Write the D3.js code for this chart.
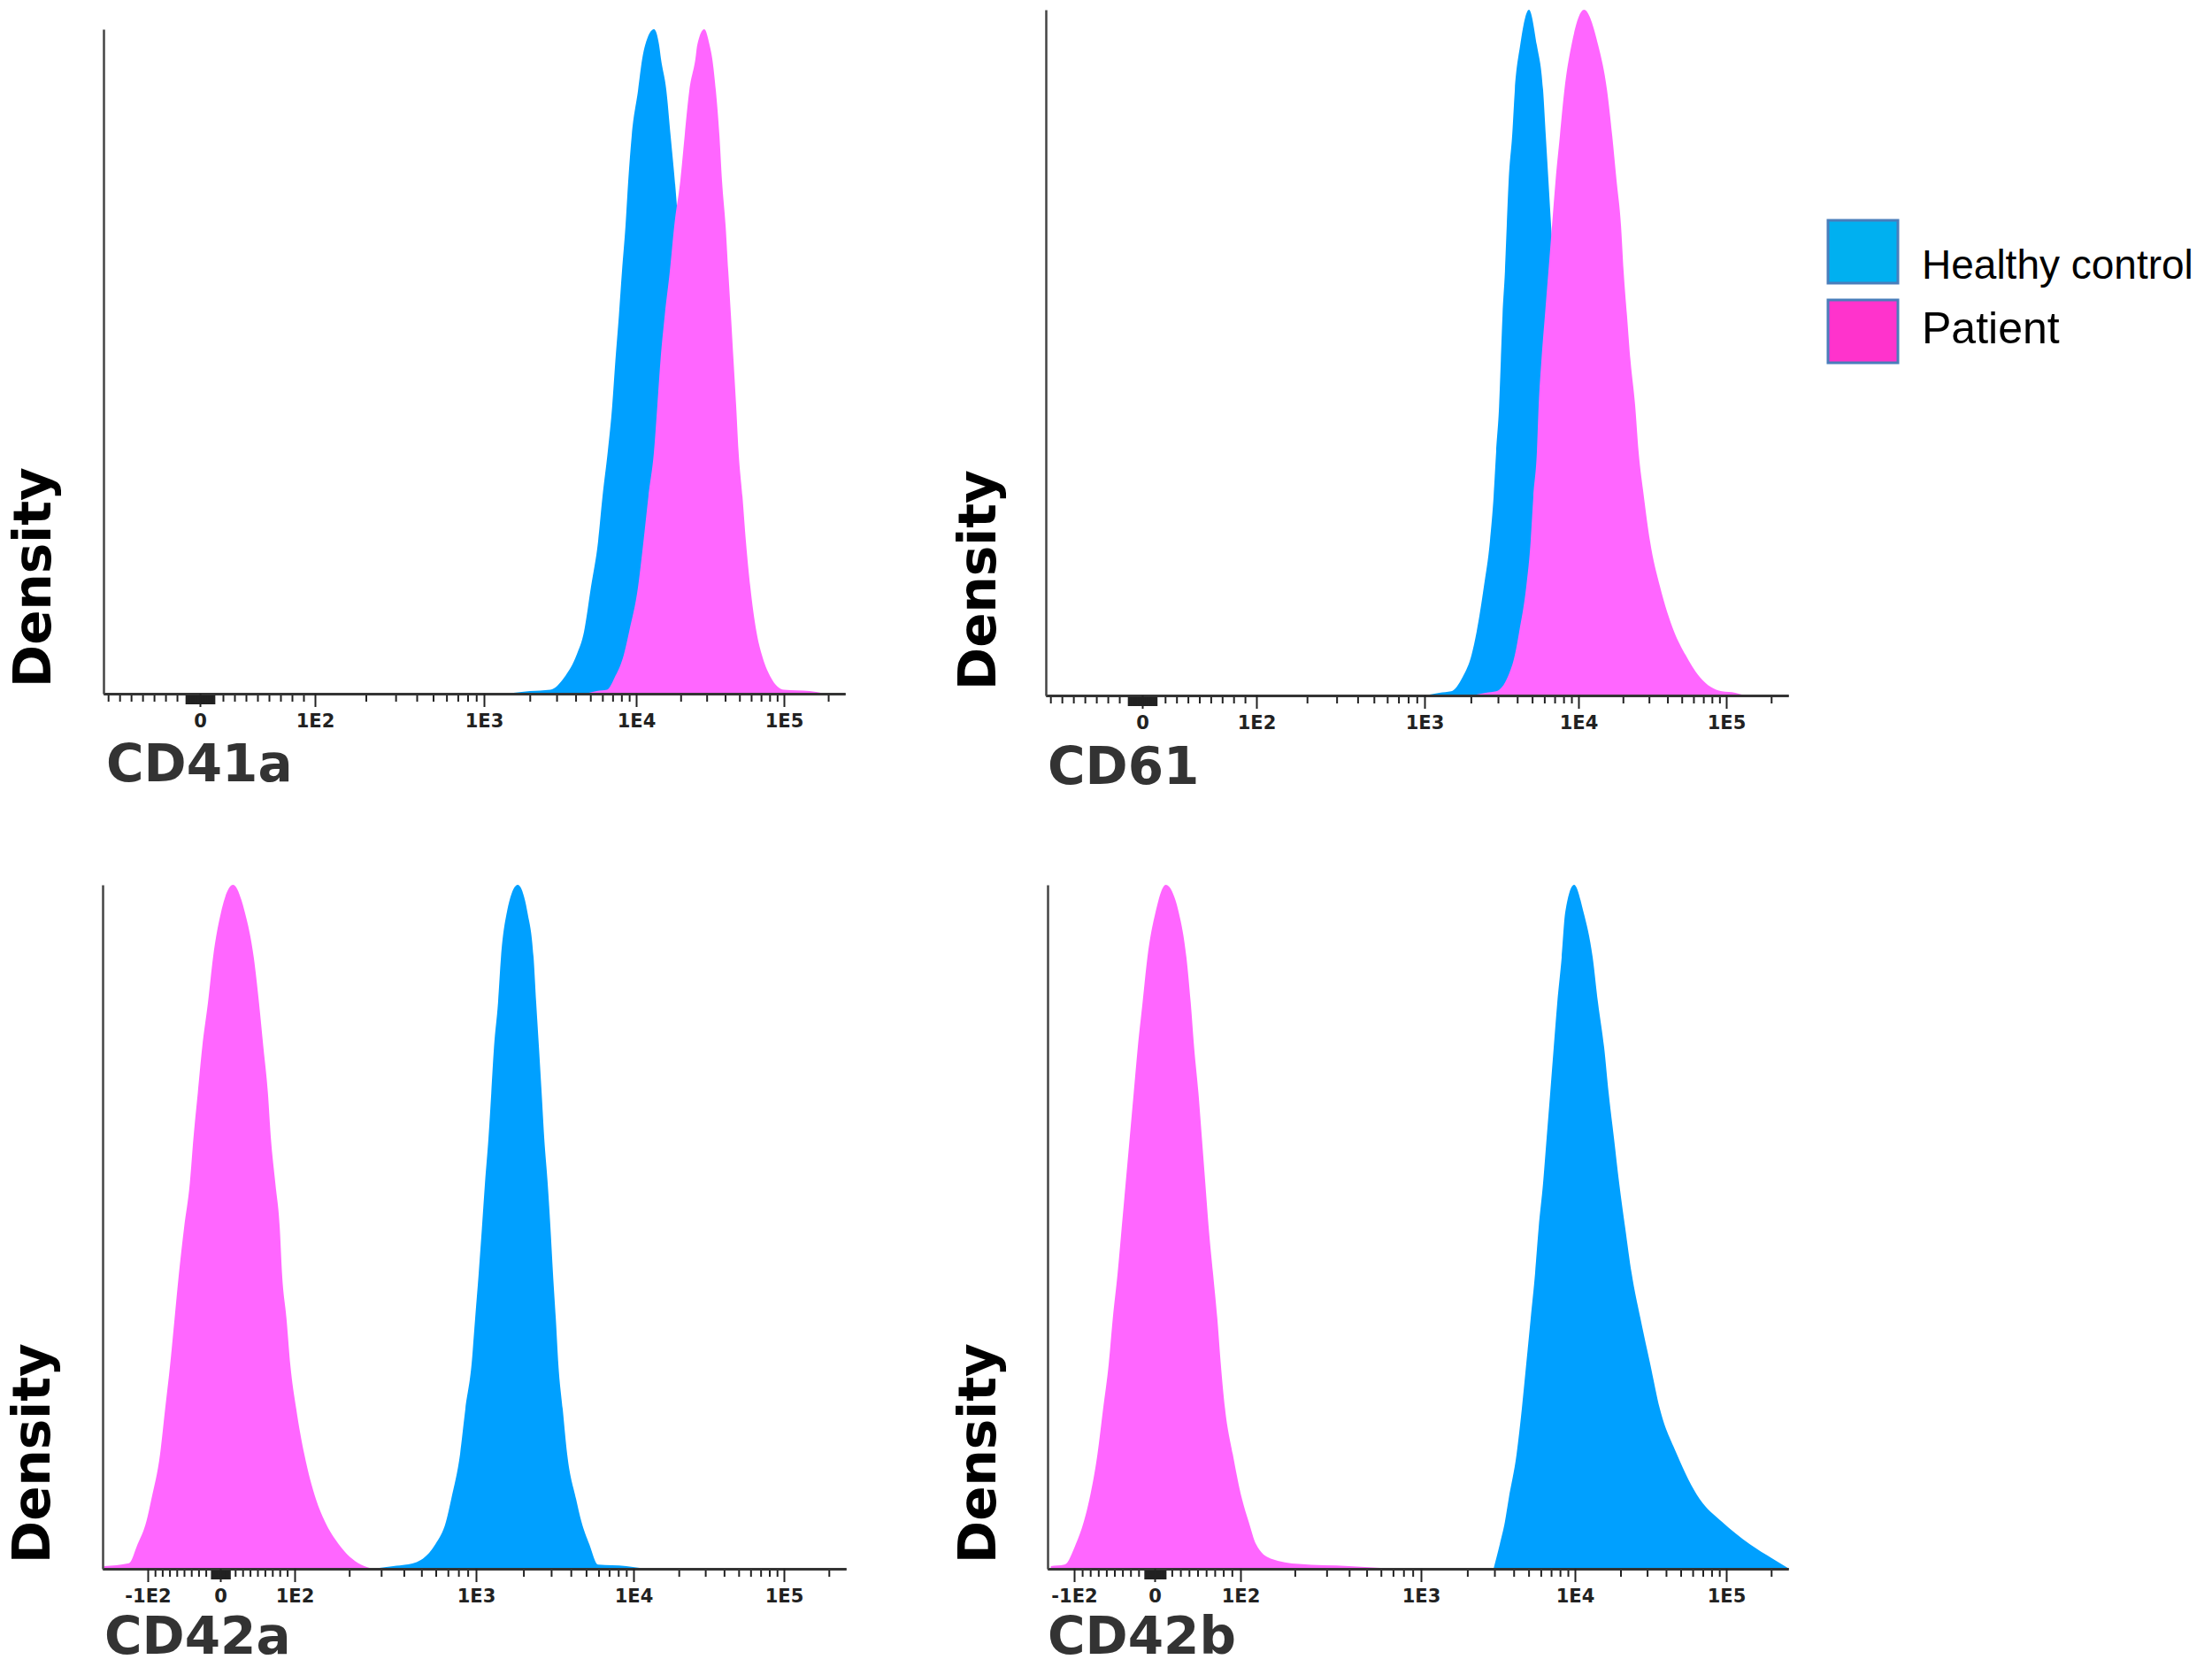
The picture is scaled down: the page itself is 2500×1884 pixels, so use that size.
<!DOCTYPE html>
<html>
<head>
<meta charset="utf-8">
<script src="https://cdn.jsdelivr.net/npm/d3@7"></script>
<style>
  body { margin: 0; background: #fff; }
  svg { display: block; }
</style>
</head>
<body>
<div id="chart"></div>
<script>
// Marker names and series (legend)
var markers = ["CD41a", "CD61", "CD42a", "CD42b"];
var seriesNames = ["Healthy control", "Patient"];

// Tick values / labels of the biexponential fluorescence axis
var tickValuesTop = [0, 100, 1000, 10000, 100000];
var tickLabelsTop = ["0", "1E2", "1E3", "1E4", "1E5"];
var tickValuesBottom = [-100, 0, 100, 1000, 10000, 100000];
var tickLabelsBottom = ["-1E2", "0", "1E2", "1E3", "1E4", "1E5"];

// Histograms: [fluorescence, % of mode]
var cd41aHealthy = [[1380,0],[2000,0.4],[2730,0.6],[3380,2.5],[4070,5.9],[4540,9.3],[5050,16.1],[5620,22.9],[6010,29.7],[6510,36.5],[6960,43.3],[7300,50.1],[7700,56.9],[8070,63.6],[8510,70.4],[8870,77.2],[9350,84],[10300,90.8],[11000,95.6],[11500,97.6],[13200,100],[14300,97.6],[14700,95.6],[16000,90.8],[17100,84],[18800,73.8],[20200,63],[21900,50],[24200,36],[26600,23],[29700,12],[34100,5],[40300,1.5],[49500,0]];
var cd41aPatient = [[4600,0],[5500,0.4],[6430,0.6],[7240,2.5],[8300,5.9],[8980,9.3],[10300,16.1],[11200,22.9],[12100,29.7],[13200,36.5],[13900,43.3],[14600,50.1],[15600,56.9],[16900,63.6],[18100,70.4],[19900,77.2],[21300,84],[22900,90.8],[25200,95.6],[25900,97.6],[28900,100],[31400,97.6],[32700,95.6],[34600,90.8],[36600,84],[38100,77.2],[40300,70.4],[42000,63.6],[43800,56.9],[45600,50.1],[47500,43.3],[49300,36.5],[52400,29.7],[55300,22.9],[59200,16.1],[65200,9.3],[70800,5.9],[81300,2.5],[100000,0.6],[150000,0.4],[191000,0]];

var cd61Healthy = [[1000,0],[1250,0.4],[1490,0.6],[1770,2.7],[2020,5.9],[2180,9.3],[2430,15.9],[2660,22.5],[2810,29],[2920,35.6],[3050,42.2],[3130,48.8],[3210,55.4],[3330,61.9],[3420,68.5],[3520,75.1],[3710,81.7],[3860,88.3],[4180,94.8],[4770,100],[5370,94.8],[5890,88.3],[6130,81.7],[6380,75.1],[6640,68.5],[7000,60],[7480,48],[8100,35],[8770,22],[9620,11],[10900,4],[12500,1],[15300,0]];
var cd61Patient = [[2020,0],[2500,0.4],[2920,0.6],[3470,2.7],[3860,5.9],[4120,9.3],[4580,15.9],[4890,22.5],[5090,29],[5370,35.6],[5510,42.2],[5740,48.8],[6050,55.4],[6380,61.9],[6730,68.5],[7100,75.1],[7580,81.7],[8100,88.3],[9000,94.8],[10900,100],[13600,94.8],[15600,88.3],[16900,81.7],[18100,75.1],[19400,68.5],[20200,61.9],[21300,55.4],[22500,48.8],[24200,42.2],[25500,35.6],[27700,29],[30500,22.5],[35600,15.9],[44400,9.3],[53100,5.9],[66100,2.7],[93300,0.6],[115000,0.4],[134000,0]];

var cd42aHealthy = [[269,0],[350,0.4],[412,0.6],[510,1.5],[597,3.6],[683,6.9],[730,10.2],[817,16.8],[874,23.4],[946,30],[989,36.6],[1040,43.2],[1090,49.8],[1140,56.4],[1200,63],[1250,69.6],[1300,76.2],[1380,82.8],[1440,89.4],[1570,96],[1840,100],[2120,96],[2320,89.4],[2410,82.8],[2510,76.2],[2610,69.6],[2710,63],[2850,56.4],[2970,49.8],[3080,43.2],[3210,36.6],[3330,30],[3550,23.4],[3790,16.8],[4320,10.2],[4670,6.9],[5240,3.6],[5960,0.6],[9000,0.4],[12200,0]];
var cd42aPatient = [[-160,0.4],[-126,0.8],[-114,3.6],[-102,6.9],[-95,10.2],[-83,16.8],[-76,23.4],[-69,30],[-63,36.6],[-57,43.2],[-50,49.8],[-42,56.4],[-37,63],[-31,69.6],[-25,76.2],[-17,82.8],[-10,89.4],[1,96],[17,100],[33,96],[45,89.4],[52,82.8],[58,76.2],[64,69.6],[68,63],[74,56.4],[80,49.8],[83,43.2],[89,36.6],[94,30],[102,23.4],[113,16.8],[131,10.2],[147,6.9],[175,3.6],[232,0.6],[269,0]];

var cd42bHealthy = [[2960,0],[3250,3.6],[3510,6.9],[3710,10.2],[4180,16.8],[4520,23.4],[4830,30],[5160,36.6],[5510,43.2],[5810,49.8],[6210,56.4],[6550,63],[6910,69.6],[7280,76.2],[7680,82.8],[8200,89.4],[8650,96],[9870,100],[11400,96],[13100,89.4],[14200,82.8],[15600,76.2],[16700,69.6],[18100,63],[19600,56.4],[21500,49.8],[23700,43.2],[27100,36.6],[31400,30],[36400,23.4],[47100,16.8],[66800,10.2],[93500,6.9],[144000,3.6],[204000,1.5],[264000,0]];
var cd42bPatient = [[-129,0.4],[-112,0.6],[-98,3.6],[-88,6.9],[-81,10.2],[-71,16.8],[-64,23.4],[-57,30],[-52,36.6],[-46,43.2],[-41,49.8],[-36,56.4],[-31,63],[-26,69.6],[-21,76.2],[-15,82.8],[-9,89.4],[1,96],[13,100],[28,96],[37,89.4],[42,82.8],[46,76.2],[51,69.6],[55,63],[59,56.4],[63,49.8],[68,43.2],[73,36.6],[77,30],[82,23.4],[91,16.8],[102,10.2],[111,6.9],[122,3.6],[147,1.5],[211,0.7],[400,0.4],[729,0]];

var colors = ["#00A0FF", "#FF66FF"];
var legendColors = ["#00B0F0", "#FF33CC"];

var svg = d3.select("#chart").append("svg")
  .attr("width", 2500)
  .attr("height", 1884);

// display transform: linear up to 100, one unit per decade above
function g(v) { return v <= 100 ? v / 100 : 1 + Math.log10(v / 100); }

// panel layout (pixel anchors of the axis are per panel, as in the figure)
var panels = [
  { name: markers[0], series: [cd41aHealthy, cd41aPatient], ticks: tickValuesTop, labels: tickLabelsTop,
    dom: [-84, 0, 100, 1e3, 1e4, 1e5, 2.6e5], px: [117, 226, 356, 547, 719, 886, 955],
    top: 33, base: 784, labelX: 120, labelY: 883, densX: 57, densY: 777 },
  { name: markers[1], series: [cd61Healthy, cd61Patient], ticks: tickValuesTop, labels: tickLabelsTop,
    dom: [-84, 0, 100, 1e3, 1e4, 1e5, 2.6e5], px: [1182, 1291, 1420, 1610, 1784, 1951, 2021],
    top: 11, base: 786, labelX: 1184, labelY: 886, densX: 1125, densY: 780 },
  { name: markers[2], series: [cd42aHealthy, cd42aPatient], ticks: tickValuesBottom, labels: tickLabelsBottom,
    dom: [-162, -100, 0, 100, 1e3, 1e4, 1e5, 2.6e5], px: [116, 167, 249, 333, 538, 716, 886, 956],
    top: 1000, base: 1773, labelX: 118, labelY: 1869, densX: 56, densY: 1767 },
  { name: markers[3], series: [cd42bHealthy, cd42bPatient], ticks: tickValuesBottom, labels: tickLabelsBottom,
    dom: [-133, -100, 0, 100, 1e3, 1e4, 1e5, 2.6e5], px: [1184, 1214, 1305, 1402, 1606, 1780, 1951, 2021],
    top: 1000, base: 1773, labelX: 1184, labelY: 1869, densX: 1125, densY: 1767 }
];

panels.forEach(function(p) {
  var xs = d3.scaleLinear().domain(p.dom.map(g)).range(p.px);
  var ys = d3.scaleLinear().domain([0, 100]).range([p.base, p.top]);
  var lo = p.dom[0], hi = p.dom[p.dom.length - 1];

  var area = d3.area()
    .x(function(d) { return xs(g(d[0])); })
    .y0(p.base)
    .y1(function(d) { return ys(d[1]); })
    .curve(d3.curveMonotoneX);

  // healthy first, patient drawn over it
  p.series.forEach(function(s, i) {
    svg.append("path")
      .datum(s)
      .attr("d", area)
      .attr("fill", colors[i]);
  });

  // minor ticks
  var minor = [], cluster = [];
  for (var k = 1; k <= 12; k++) { cluster.push(k); cluster.push(-k); }
  for (k = 2; k <= 9; k++) {
    if (-10 * k >= lo && p.ticks.indexOf(-10 * k) < 0) minor.push(-10 * k);
    minor.push(10 * k);
  }
  [100, 1000, 10000, 100000].forEach(function(dec) {
    for (var m = 2; m <= 9; m++) if (dec * m <= hi) minor.push(dec * m);
  });

  var minorAxis = d3.axisBottom(xs).tickValues(minor.map(g)).tickSize(9).tickSizeOuter(0).tickFormat("");
  var clusterAxis = d3.axisBottom(xs).tickValues(cluster.map(g)).tickSize(12).tickSizeOuter(0).tickFormat("");
  var majorAxis = d3.axisBottom(xs).tickValues(p.ticks.map(g)).tickSize(15).tickPadding(8).tickSizeOuter(0)
    .tickFormat(function(d, i) { return p.labels[i]; });

  [minorAxis, clusterAxis, majorAxis].forEach(function(ax, j) {
    var gAx = svg.append("g")
      .attr("transform", "translate(0," + p.base + ")")
      .call(ax);
    gAx.selectAll(".tick line").attr("stroke", "#222").attr("stroke-width", j === 1 ? 2.5 : 2);
    gAx.select(".domain").attr("stroke", "#333").attr("stroke-width", 2.5);
    gAx.selectAll("text")
      .attr("fill", "#222")
      .style("font-family", "'DejaVu Sans', sans-serif")
      .style("font-weight", "bold")
      .style("font-size", "21px");
  });

  // y axis (no ticks)
  svg.append("g")
    .attr("transform", "translate(" + p.px[0] + ",0)")
    .call(d3.axisLeft(ys).tickValues([]).tickSizeOuter(0))
    .select(".domain").attr("stroke", "#444").attr("stroke-width", 2.5);

  // marker label
  svg.append("text")
    .attr("x", p.labelX)
    .attr("y", p.labelY)
    .attr("fill", "#333")
    .style("font-family", "'DejaVu Sans', sans-serif")
    .style("font-weight", "bold")
    .style("font-size", "58px")
    .text(p.name);

  // y title
  svg.append("text")
    .attr("transform", "translate(" + p.densX + "," + p.densY + ") rotate(-90)")
    .attr("fill", "#000")
    .style("font-family", "'DejaVu Sans', sans-serif")
    .style("font-weight", "bold")
    .style("font-size", "58px")
    .text("Density");
});

// legend
var legend = svg.append("g").attr("transform", "translate(2066,249)");
seriesNames.forEach(function(name, i) {
  legend.append("rect")
    .attr("x", 0)
    .attr("y", i * 90)
    .attr("width", 79)
    .attr("height", 71)
    .attr("fill", legendColors[i])
    .attr("stroke", "#4A7EBB")
    .attr("stroke-width", 3);
  legend.append("text")
    .attr("x", 106)
    .attr("y", i === 0 ? 66 : 139)
    .attr("fill", "#000")
    .style("font-family", "'Liberation Sans', Arial, sans-serif")
    .style("font-size", i === 0 ? "46px" : "50px")
    .text(name);
});
</script>
</body>
</html>
